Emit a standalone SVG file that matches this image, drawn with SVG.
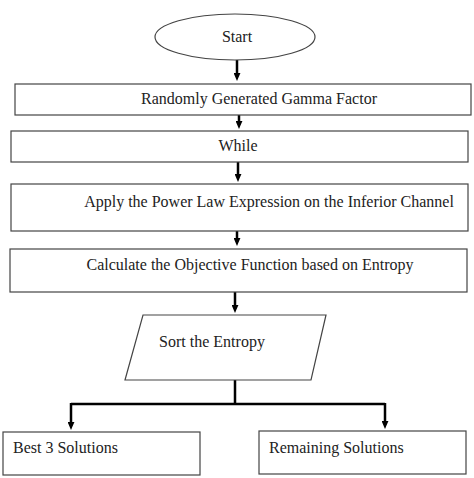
<svg xmlns="http://www.w3.org/2000/svg" width="474" height="478" viewBox="0 0 474 478">
<style>
.box{fill:#fff;stroke:#444;stroke-width:1.2}
.lbl{font-family:"Liberation Serif","DejaVu Serif",serif;font-size:16px;fill:#222}
.con{fill:none;stroke:#000;stroke-width:2.5}
</style>
<defs>
<marker id="ah" markerWidth="8" markerHeight="7" refX="3.5" refY="3" orient="auto" markerUnits="userSpaceOnUse" viewBox="0 0 7 6">
<path d="M0,0 L7,3 L0,6 z" fill="#000"/>
</marker>
</defs>
<rect width="474" height="478" fill="#fff"/>
<g id="connectors">
<path class="con" d="M237,60 V77" marker-end="url(#ah)"/>
<path class="con" d="M239,115 V125" marker-end="url(#ah)"/>
<path class="con" d="M238,162 V178" marker-end="url(#ah)"/>
<path class="con" d="M237,231 V242" marker-end="url(#ah)"/>
<path class="con" d="M235,292 V309" marker-end="url(#ah)"/>
<path class="con" d="M235,380 V404 M71,404 H385"/>
<path class="con" d="M71,403 V426" marker-end="url(#ah)"/>
<path class="con" d="M385,403 V425" marker-end="url(#ah)"/>
</g>
<g id="start">
<ellipse class="box" cx="235" cy="37" rx="80" ry="23"/>
<text class="lbl" x="237" y="42" text-anchor="middle">Start</text>
</g>
<g id="gamma">
<rect class="box" x="15" y="84" width="456" height="31"/>
<text class="lbl" x="259" y="104" text-anchor="middle">Randomly Generated Gamma Factor</text>
</g>
<g id="while">
<rect class="box" x="11" y="131" width="457" height="31"/>
<text class="lbl" x="238" y="151" text-anchor="middle">While</text>
</g>
<g id="power">
<rect class="box" x="11" y="184" width="457" height="47"/>
<text class="lbl" x="269" y="207" text-anchor="middle">Apply the Power Law Expression on the Inferior Channel</text>
</g>
<g id="objective">
<rect class="box" x="10" y="249" width="457" height="43"/>
<text class="lbl" x="250" y="270" text-anchor="middle">Calculate the Objective Function based on Entropy</text>
</g>
<g id="sort">
<polygon class="box" points="143,315 326,315 311,380 125,380"/>
<text class="lbl" x="212" y="347" text-anchor="middle">Sort the Entropy</text>
</g>
<g id="best">
<rect class="box" x="3" y="432" width="197" height="43"/>
<text class="lbl" x="13" y="453">Best 3 Solutions</text>
</g>
<g id="remaining">
<rect class="box" x="259" y="431" width="207" height="43"/>
<text class="lbl" x="269" y="453">Remaining Solutions</text>
</g>
</svg>
